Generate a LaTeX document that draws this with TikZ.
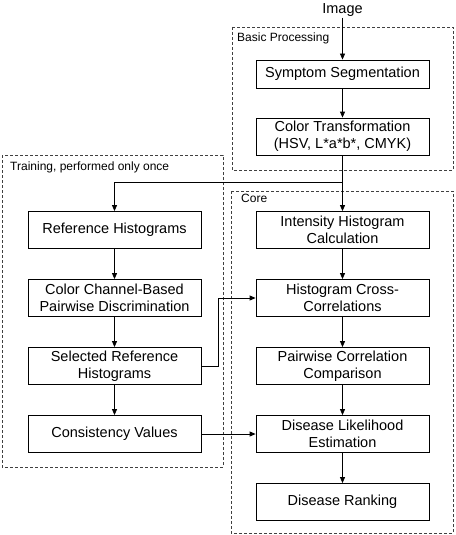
\documentclass[tikz,border=0pt]{standalone}
\usepackage{fontspec}
\setmainfont{Liberation Sans}
\usetikzlibrary{arrows.meta,calc}
\newcommand*{\colL}{114.5}
\newcommand*{\colR}{342.5}
\tikzset{
  stage/.style={draw=black,line width=0.8pt,minimum width=173pt,minimum height=37pt,align=center,inner sep=1pt,font=\fontsize{14.5}{17}\selectfont},
  frame/.style={draw=black!75,line width=0.8pt,dash pattern=on 3pt off 2pt},
  framelabel/.style={anchor=west,inner sep=0pt,font=\fontsize{12}{14}\selectfont},
  flow/.style={-{Triangle[length=6pt,width=5pt]},line width=0.8pt}
}

\begin{document}
\begin{tikzpicture}[x=1pt,y=-1pt]
\useasboundingbox (0,0) rectangle (455,535);

% dashed groups
\draw[frame] (232,27) rectangle (453,170);
\draw[frame] (2,155) rectangle (223,467);
\draw[frame] (231,191) rectangle (453,533);
\node[framelabel] (basicLbl) at (237,38) {Basic Processing};
\node[framelabel] (trainLbl) at (10,167) {Training, performed only once};
\node[framelabel] (coreLbl) at (241,198) {Core};

% input
\node[font=\fontsize{14.5}{17}\selectfont,inner sep=1pt] (image) at (\colR,10) {Image};

% basic processing
\node[stage,minimum height=28pt] (segment) at (\colR,74) {Symptom Segmentation};
\node[stage] (colortrans) at (\colR,136.5) {Color Transformation\\(HSV, L*a*b*, CMYK)};

% training
\node[stage] (refhist) at (\colL,230) {Reference Histograms};
\node[stage] (pairdisc) at (\colL,298) {Color Channel-Based\\Pairwise Discrimination};
\node[stage] (selref) at (\colL,366) {Selected Reference\\Histograms};
\node[stage] (consist) at (\colL,434) {Consistency Values};

% core
\node[stage] (intensity) at (\colR,230) {Intensity Histogram\\Calculation};
\node[stage] (crosscorr) at (\colR,298) {Histogram Cross-\\Correlations};
\node[stage] (paircomp) at (\colR,366) {Pairwise Correlation\\Comparison};
\node[stage] (likelihood) at (\colR,434) {Disease Likelihood\\Estimation};
\node[stage] (ranking) at (\colR,502) {Disease Ranking};

% connectors
\coordinate (split) at (\colR,182);
\draw[flow] (image) -- (segment);
\draw[flow] (segment) -- (colortrans);
\draw[flow] (colortrans) -- (intensity);
\draw[flow] (split) -| (refhist);
\draw[flow] (refhist) -- (pairdisc);
\draw[flow] (pairdisc) -- (selref);
\draw[flow] (selref) -- (consist);
\draw[flow] (intensity) -- (crosscorr);
\draw[flow] (crosscorr) -- (paircomp);
\draw[flow] (paircomp) -- (likelihood);
\draw[flow] (likelihood) -- (ranking);
\draw[flow] (selref.east) -- ++(17,0) |- (crosscorr.west);
\draw[flow] (consist) -- (likelihood);
\end{tikzpicture}
\end{document}
